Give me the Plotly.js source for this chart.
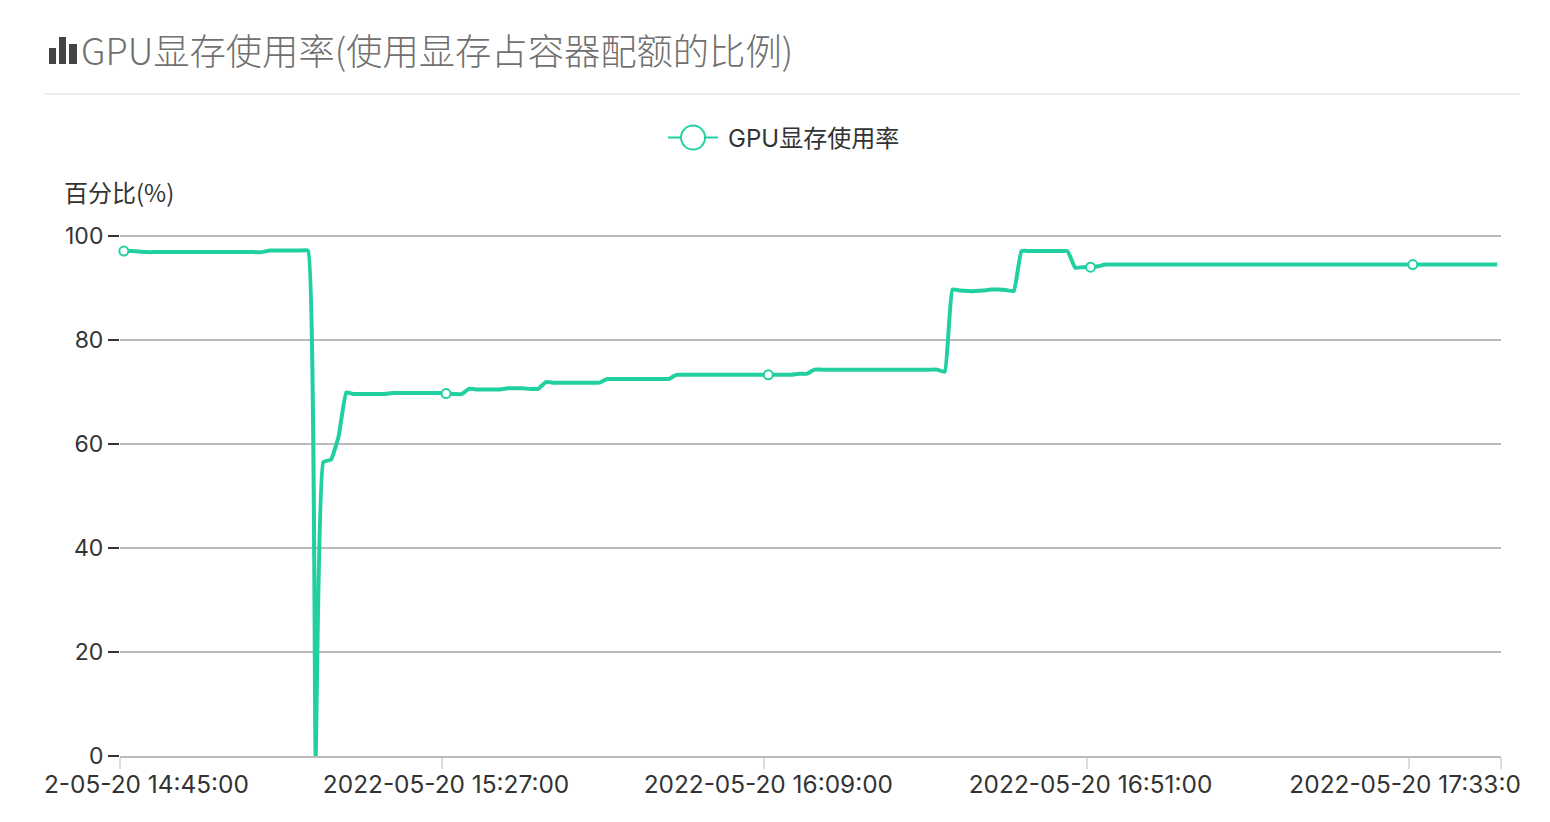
<!DOCTYPE html>
<html>
<head>
<meta charset="utf-8">
<script src="https://cdn.plot.ly/plotly-3.0.1.min.js"></script>
<style>
  html, body { margin: 0; padding: 0; background: #fff; overflow: hidden; }
  /* the card clips the first and last x labels, same as the original page */
  #chart { position: absolute; left: 44px; top: 0; width: 1476px; height: 822px; }
  #rule { position: absolute; left: 44px; top: 93px; width: 1476px; height: 2px; background: #eee; }
  .bar { position: absolute; background: #444; }
</style>
</head>
<body>
<div id="chart"></div>
<div id="rule"></div>
<div class="bar" style="left:49px;top:48px;width:7px;height:16px"></div>
<div class="bar" style="left:59px;top:37px;width:7px;height:27px"></div>
<div class="bar" style="left:69px;top:44px;width:8px;height:20px"></div>
<script>
const titleText = "GPU显存使用率(使用显存占容器配额的比例)";
const seriesName = "GPU显存使用率";
const yName = "百分比(%)";
const yTicks = [0, 20, 40, 60, 80, 100];
const startTime = "2022-05-20T14:45:00";
const labelStep = 42; // minutes between x labels

// one value per minute, 14:45 to 17:44
const values = [
  97.1, 97.1, 97.0, 96.9, 96.9, 96.9, 96.9, 96.9, 96.9, 96.9,
  96.9, 96.9, 96.9, 96.9, 96.9, 96.9, 96.9, 96.9, 96.9, 97.2,
  97.2, 97.2, 97.2, 97.2, 97.2, 0, 56.5, 57.0, 61.5, 69.9,
  69.6, 69.6, 69.6, 69.6, 69.6, 69.8, 69.8, 69.8, 69.8, 69.8,
  69.8, 69.8, 69.7, 69.6, 69.6, 70.6, 70.5, 70.5, 70.5, 70.5,
  70.7, 70.7, 70.7, 70.6, 70.6, 71.9, 71.8, 71.8, 71.8, 71.8,
  71.8, 71.8, 71.8, 72.5, 72.5, 72.5, 72.5, 72.5, 72.5, 72.5,
  72.5, 72.5, 73.3, 73.3, 73.3, 73.3, 73.3, 73.3, 73.3, 73.3,
  73.3, 73.3, 73.3, 73.3, 73.3, 73.3, 73.3, 73.3, 73.5, 73.5,
  74.3, 74.3, 74.3, 74.3, 74.3, 74.3, 74.3, 74.3, 74.3, 74.3,
  74.3, 74.3, 74.3, 74.3, 74.3, 74.3, 74.3, 73.9, 89.7, 89.5,
  89.4, 89.4, 89.5, 89.7, 89.7, 89.6, 89.4, 97.1, 97.1, 97.1,
  97.1, 97.1, 97.1, 97.1, 93.9, 94.0, 94.0, 94.2, 94.5, 94.5,
  94.5, 94.5, 94.5, 94.5, 94.5, 94.5, 94.5, 94.5, 94.5, 94.5,
  94.5, 94.5, 94.5, 94.5, 94.5, 94.5, 94.5, 94.5, 94.5, 94.5,
  94.5, 94.5, 94.5, 94.5, 94.5, 94.5, 94.5, 94.5, 94.5, 94.5,
  94.5, 94.5, 94.5, 94.5, 94.5, 94.5, 94.5, 94.5, 94.5, 94.5,
  94.5, 94.5, 94.5, 94.5, 94.5, 94.5, 94.5, 94.5, 94.5, 94.5
];

const green = "#22cfa0";
const fontFam = 'Inter, "Noto Sans CJK SC", sans-serif';
const cjkFam = '"Noto Sans CJK SC", Inter, sans-serif';

// minutes -> time string on the local clock, no timezone shift
const addMin = m => {
  const base = new Date(startTime + "Z");
  return new Date(base.getTime() + m * 60000).toISOString().slice(0, 19).replace("T", " ");
};

const times = values.map((v, i) => addMin(i));
const labelVals = times.filter((t, i) => i % labelStep === 0);

// ticks sit on the band edges, half a minute before each label
const edgeVals = labelVals.map((t, i) => addMin(i * labelStep - 0.5));
edgeVals.push(addMin(values.length - 0.5));

const trace = {
  x: times,
  y: values,
  name: seriesName,
  type: "scatter",
  mode: "lines+markers",
  line: { color: green, width: 4, shape: "spline", smoothing: 0.35 },
  marker: {
    color: "#fff",
    opacity: 1,
    size: values.map((v, i) => i % labelStep === 0 ? 9 : 0),
    line: { color: green, width: 2 }
  },
  cliponaxis: false,
  hoverinfo: "x+y"
};

const layout = {
  width: 1476,
  height: 822,
  // 2px headroom above the 100 line, plotly drops grid lines on the very edge
  margin: { l: 76, r: 19, t: 234, b: 66 },
  paper_bgcolor: "#fff",
  plot_bgcolor: "#fff",
  font: { family: fontFam, size: 23, color: "#333" },
  title: {
    text: titleText,
    xref: "container", yref: "container",
    x: 37 / 1476, xanchor: "left",
    y: 1 - 52 / 822, yanchor: "middle",
    font: { family: cjkFam, size: 36.3, color: "#707070", weight: 300 }
  },
  showlegend: true,
  legend: {
    orientation: "h",
    xref: "container", yref: "container",
    x: 0.4997, xanchor: "center",
    y: 1 - 138 / 822, yanchor: "middle",
    itemwidth: 50,
    font: { family: fontFam, size: 24, color: "#333" }
  },
  xaxis: {
    type: "date",
    range: [addMin(-0.5), addMin(values.length - 0.5)],
    tickmode: "array",
    tickvals: labelVals,
    tickformat: "%Y-%m-%d %H:%M:%S",
    tickfont: { size: 24.4 },
    ticks: "",
    ticklabelstandoff: 6,
    ticklabeloverflow: "allow",
    showgrid: false,
    showline: true,
    linecolor: "#bbb",
    linewidth: 2,
    zeroline: false,
    minor: {
      ticks: "outside", ticklen: 11, tickwidth: 2, tickcolor: "#ddd",
      tickmode: "array", tickvals: edgeVals, showgrid: false
    }
  },
  yaxis: {
    range: [0, 100.385],
    tickmode: "array",
    tickvals: yTicks,
    ticks: "outside",
    ticklen: 11,
    tickwidth: 2,
    tickcolor: "#333",
    gridcolor: "#bbb",
    gridwidth: 2,
    zeroline: false,
    showline: false
  },
  annotations: [{
    text: yName,
    xref: "paper", yref: "paper",
    x: -58 / 1381, xanchor: "left",
    y: 1 + 43 / 522, yanchor: "middle",
    showarrow: false,
    font: { family: cjkFam, size: 24, color: "#333" }
  }]
};

Plotly.newPlot("chart", [trace], layout, { displayModeBar: false }).then(() => {
  // legend symbol is bigger and its line thinner than the library allows
  const pt = document.querySelector("#chart .legend path.scatterpts");
  if (pt) {
    pt.setAttribute("d", "M12,0A12,12 0 1,1 0,-12A12,12 0 0,1 12,0Z");
    pt.style.strokeWidth = "2px";
    pt.style.fill = "#fff";
    pt.style.opacity = 1;
  }
  const ln = document.querySelector("#chart .legend .legendlines path");
  if (ln) ln.style.strokeWidth = "2px";
  // wider gap between symbol and legend text
  const tx = document.querySelector("#chart .legend text.legendtext");
  if (tx) tx.setAttribute("x", parseFloat(tx.getAttribute("x")) + 5);
});
</script>
</body>
</html>
